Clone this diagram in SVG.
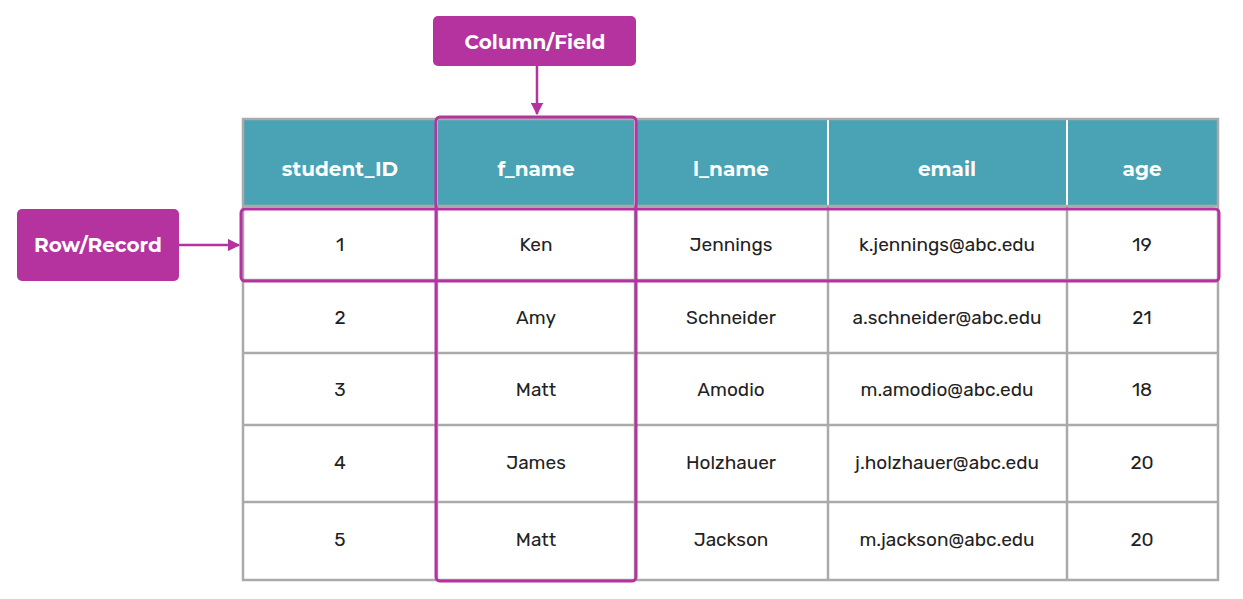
<svg xmlns="http://www.w3.org/2000/svg" width="1243" height="599" viewBox="0 0 1243 599">
<style>
.hd{font-family:"Montserrat","Open Sans","Liberation Sans",sans-serif;font-weight:700;font-size:20px;fill:#fff;text-anchor:middle}
.cell{font-family:"Rubik","Inter","Liberation Sans",sans-serif;font-size:19px;fill:#222;text-anchor:middle}
.lbl{fill:#b5339f;rx:5}
.hl{fill:none;stroke:#b5339f;stroke-width:3}
.grid{stroke:#aaaaaa;stroke-width:2.5;fill:none}
</style>
<defs><marker id="ah" viewBox="0 0 10 10" refX="9" refY="5" markerWidth="5" markerHeight="5" orient="auto"><path d="M0,0L10,5L0,10z" fill="#b5339f"/></marker></defs>
<rect width="1243" height="599" fill="#fff"/>
<g id="table">
<rect x="243" y="119" width="975" height="87" fill="#4aa3b4"/>
<g stroke="#fff" stroke-width="2"><line x1="437" y1="119" x2="437" y2="206"/><line x1="635" y1="119" x2="635" y2="206"/><line x1="828" y1="119" x2="828" y2="206"/><line x1="1067" y1="119" x2="1067" y2="206"/></g>
<rect class="grid" x="243" y="119" width="975" height="461"/>
<g class="grid"><line x1="437" y1="206" x2="437" y2="580"/><line x1="635" y1="206" x2="635" y2="580"/><line x1="828" y1="206" x2="828" y2="580"/><line x1="1067" y1="206" x2="1067" y2="580"/>
<line x1="243" y1="206" x2="1218" y2="206"/><line x1="243" y1="280" x2="1218" y2="280"/><line x1="243" y1="353" x2="1218" y2="353"/><line x1="243" y1="425" x2="1218" y2="425"/><line x1="243" y1="502" x2="1218" y2="502"/></g>
<text class="hd" x="340" y="176">student_ID</text><text class="hd" x="536" y="176">f_name</text><text class="hd" x="731" y="176">l_name</text><text class="hd" x="947" y="176">email</text><text class="hd" x="1142" y="176">age</text>
<g class="cell">
<text x="340" y="251">1</text><text x="536" y="251">Ken</text><text x="731" y="251">Jennings</text><text x="947" y="251">k.jennings@abc.edu</text><text x="1142" y="251">19</text>
<text x="340" y="324">2</text><text x="536" y="324">Amy</text><text x="731" y="324">Schneider</text><text x="947" y="324">a.schneider@abc.edu</text><text x="1142" y="324">21</text>
<text x="340" y="396">3</text><text x="536" y="396">Matt</text><text x="731" y="396">Amodio</text><text x="947" y="396">m.amodio@abc.edu</text><text x="1142" y="396">18</text>
<text x="340" y="469">4</text><text x="536" y="469">James</text><text x="731" y="469">Holzhauer</text><text x="947" y="469">j.holzhauer@abc.edu</text><text x="1142" y="469">20</text>
<text x="340" y="546">5</text><text x="536" y="546">Matt</text><text x="731" y="546">Jackson</text><text x="947" y="546">m.jackson@abc.edu</text><text x="1142" y="546">20</text>
</g>
</g>
<g id="col-highlight"><rect class="hl" x="436" y="117" width="200" height="464" rx="4"/></g>
<g id="row-highlight"><rect class="hl" x="241" y="209" width="978" height="72" rx="4"/></g>
<g id="column-label"><rect class="lbl" x="433" y="16" width="203" height="50" rx="5"/><text class="hd" x="535" y="49">Column/Field</text></g>
<g id="row-label"><rect class="lbl" x="17" y="209" width="162" height="72" rx="5"/><text class="hd" x="98" y="252">Row/Record</text></g>
<g id="connectors" stroke="#b5339f" stroke-width="2.5" fill="none">
<line x1="537" y1="66" x2="537" y2="114" marker-end="url(#ah)"/>
<line x1="179" y1="245" x2="239" y2="245" marker-end="url(#ah)"/>
</g>
</svg>
